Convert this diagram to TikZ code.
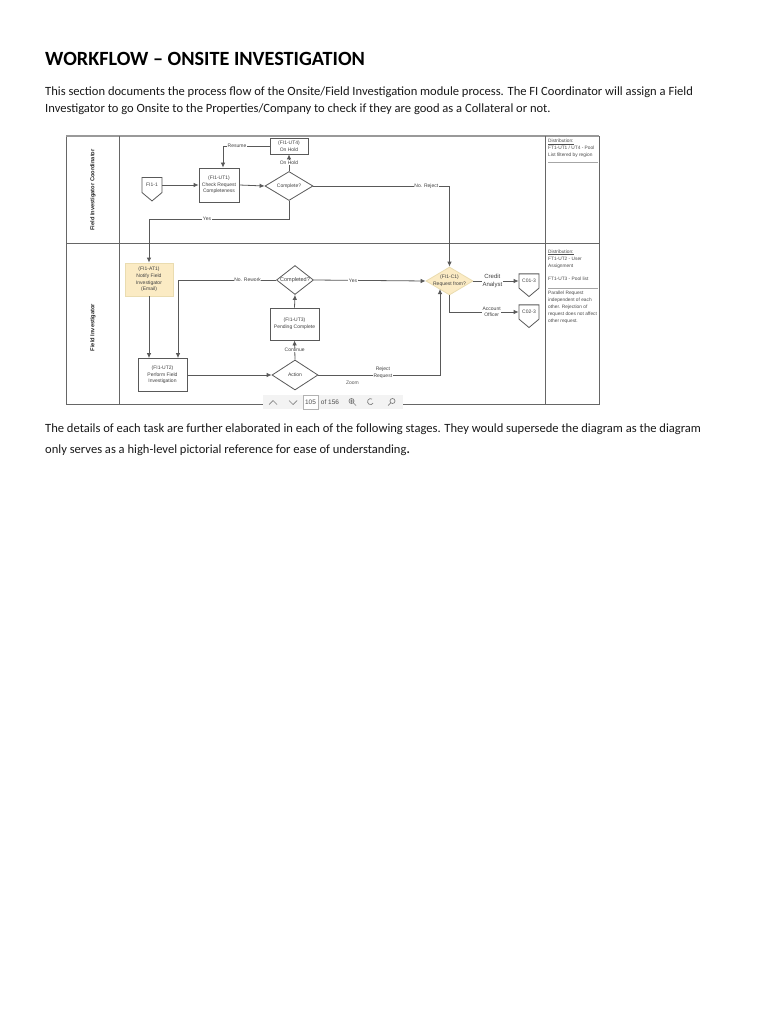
\documentclass[tikz,border=0pt]{standalone}
\usepackage{fontspec}
\setmainfont{Carlito}
\newfontfamily\chartfont{Liberation Sans}
\usetikzlibrary{arrows.meta,shapes.geometric,shapes.symbols}
\definecolor{paleyellow}{HTML}{FBEBC4}
\definecolor{paleedge}{HTML}{EADCB0}
\definecolor{barback}{HTML}{F3F3F3}
\tikzset{
  lane/.style={draw=black!60, line width=0.8pt},
  chartfontsize/.style={font=\chartfont\fontsize{5}{6.6}\selectfont, text=black!75},
  taskbox/.style={chartfontsize, draw=black!65, fill=white, line width=0.8pt, align=center, inner sep=0pt},
  decide/.style={diamond, draw=black!65, fill=white, line width=0.8pt, inner sep=0pt},
  decidelabel/.style={chartfontsize, align=center, inner sep=0pt},
  offpage/.style={chartfontsize, signal, signal to=south, signal pointer angle=100, draw=black!65, fill=white, line width=0.8pt, inner sep=0pt, minimum width=20pt, minimum height=20pt},
  flowlabel/.style={chartfontsize, fill=white, align=center, inner sep=0.5pt},
  flow/.style={draw=black!65, line width=0.8pt, -{Latex[length=5pt,width=4.5pt]}},
  sidenote/.style={align=left, anchor=north west, inner sep=0pt, font=\chartfont\fontsize{4.8}{7}\selectfont, text=black!70},
  lanetitle/.style={rotate=90, inner sep=0pt, font=\chartfont\bfseries\fontsize{5.7}{6}\selectfont, text=black!85},
  bodytext/.style={anchor=base west, inner sep=0pt, font=\fontsize{12.55}{15}\selectfont, text=black!90},
  barglyph/.style={draw=black!50, line width=0.7pt},
}
\begin{document}
\begin{tikzpicture}[x=1pt, y=-1pt]
  \useasboundingbox[fill=white] (0,0) rectangle (768,1024);

  % heading and paragraphs
  \node[anchor=base west, inner sep=0pt, font=\bfseries\fontsize{20.2}{24}\selectfont] (title) at (45,66) {WORKFLOW – ONSITE INVESTIGATION};
  \node[bodytext] (introa) at (45,96) {This section documents the process flow of the Onsite/Field Investigation module process. The FI Coordinator will assign a Field};
  \node[bodytext] (introb) at (45,113) {Investigator to go Onsite to the Properties/Company to check if they are good as a Collateral or not.};
  \node[bodytext] (closea) at (45,432) {The details of each task are further elaborated in each of the following stages. They would supersede the diagram as the diagram};
  \node[bodytext] (closeb) at (45,453) {only serves as a high-level pictorial reference for ease of understanding{\bfseries .}};

  % lanes
  \draw[lane] (66,136) rectangle (599,404);
  \draw[lane, black!40, line width=1.4pt] (66,136) -- (599,136);
  \draw[lane] (66,243.5) -- (599,243.5);
  \draw[lane] (119,136) -- (119,404);
  \draw[lane] (545.5,136) -- (545.5,404);
  \draw[lane, black!35] (548,162) -- (598,162);
  \draw[lane, black!35] (548,288) -- (598,288);
  \node[lanetitle] (lanea) at (93,190) {Field Investigator Coordinator};
  \node[lanetitle] (laneb) at (93,327.5) {Field Investigator};

  % coordinator lane
  \node[offpage] (start) at (152,185) {FI1-1};
  \node[taskbox, minimum width=40pt, minimum height=34pt] (check) at (219,185) {(FI1-UT1)\\Check Request\\Completeness};
  \node[taskbox, minimum width=38pt, minimum height=16pt] (hold) at (289,146) {(FI1-UT4)\\On Hold};
  \node[decide, minimum width=48pt, minimum height=29pt, label={[decidelabel]center:Complete?}] (complete) at (289,186) {};
  \coordinate (resumebend) at (223,146);
  \coordinate (yesbend) at (289,219);

  % investigator lane
  \node[taskbox, draw=paleedge, fill=paleyellow, minimum width=48pt, minimum height=33pt] (notify) at (149,279.5) {(FI1-AT1)\\Notify Field\\Investigator\\(Email)};
  \node[taskbox, minimum width=49pt, minimum height=33pt] (perform) at (162.5,375) {(FI1-UT2)\\Perform Field\\Investigation};
  \node[decide, minimum width=37pt, minimum height=29pt, label={[decidelabel, font=\chartfont\fontsize{5.5}{6.6}\selectfont]center:Completed?}] (completed) at (295,280) {};
  \node[taskbox, minimum width=49pt, minimum height=32pt] (pending) at (294.5,324) {(FI1-UT3)\\Pending Complete};
  \node[decide, minimum width=46pt, minimum height=30pt, label={[decidelabel]center:Action}] (action) at (295,375) {};
  \node[decide, draw=paleedge, fill=paleyellow, minimum width=47pt, minimum height=28pt, label={[decidelabel]center:(FI1-C1)\\Request from?}] (request) at (449.5,281) {};
  \node[offpage] (creditout) at (529,281) {C01-3};
  \node[offpage] (officerout) at (529,312) {C02-3};
  \coordinate (reworkbend) at (178,280);
  \coordinate (rejectbend) at (440,375);
  \coordinate (rejectend) at (440,289);
  \coordinate (officerbend) at (449.5,312);

  % connectors
  \draw[flow] (start.east |- check.west) -- (check.west);
  \draw[flow] (check.east) -- (complete.west);
  \draw[flow] (complete.north) -- node[flowlabel] {On Hold} (hold.south);
  \draw[flow] (hold.west) -- node[flowlabel, pos=0.7] {Resume} (resumebend) -- (resumebend |- check.north);
  \draw[flow] (complete.south) -- (yesbend) -- node[flowlabel, pos=0.586] {Yes} (yesbend -| notify.north) -- (notify.north);
  \draw[flow] (complete.east) -- node[flowlabel, pos=0.83] {No. Reject} (complete.east -| request.north) -- (request.north);
  \draw[flow] (notify.south) -- (notify.south |- perform.north);
  \draw[flow] (completed.west) -- node[flowlabel, pos=0.29] {No. Rework} (reworkbend) -- (reworkbend |- perform.north);
  \draw[flow] (perform.east) -- (action.west);
  \draw[flow] (action.north) -- node[flowlabel] {Continue} (pending.south);
  \draw[flow] (pending.north) -- (completed.south);
  \draw[flow] (completed.east) -- node[flowlabel, pos=0.35] {Yes} (request.west);
  \draw[flow] (action.east) -- node[flowlabel, pos=0.53, yshift=2.5pt] {Reject\\Request} (rejectbend) -- (rejectend);
  \draw[flow] (request.east) -- node[flowlabel, pos=0.42, font=\chartfont\fontsize{6}{7.5}\selectfont] {Credit\\Analyst} (creditout.west |- request.east);
  \draw[flow] (request.south) -- (officerbend) -- node[flowlabel, pos=0.61] {Account\\Officer} (officerout.west |- officerbend);

  % side notes
  \node[sidenote] (notea) at (548,139) {\underline{Distribution:}\\FT1-UT1 / UT4 - Pool\\List filtered by region};
  \node[sidenote] (noteb) at (548,249.5) {\underline{Distribution:}\\FT1-UT2 - User\\Assignment\\[6pt]FT1-UT3 - Pool list};
  \node[sidenote] (notec) at (548,290.5) {Parallel Request\\independent of each\\other. Rejection of\\request does not affect\\other request.};

  % viewer toolbar
  \fill[barback] (263,395) rectangle (403,409);
  \fill[white] (340,377) rectangle (365,391) (348,391) -- (357,391) -- (352.5,395) -- cycle;
  \node[font=\chartfont\fontsize{5}{6}\selectfont, text=black!65, inner sep=0pt] (zoomtip) at (352.5,383) {Zoom};
  \draw[barglyph] (269,404.5) -- (273,400.5) -- (277,404.5);
  \draw[barglyph] (289,400.5) -- (293,404.5) -- (297,400.5);
  \node[draw=black!30, fill=white, line width=0.6pt, minimum width=15pt, minimum height=14pt, inner sep=0pt, font=\chartfont\fontsize{6.5}{7}\selectfont, text=black!70] (pagebox) at (310.5,402) {105};
  \node[font=\chartfont\fontsize{6.5}{7}\selectfont, text=black!70, inner sep=0pt] (pagecount) at (330,402) {of 156};
  \draw[barglyph] (351.5,401) circle (2.5pt) (353.5,403) -- (356,405.5) (350,401) -- (353,401) (351.5,399.5) -- (351.5,402.5);
  \draw[barglyph] (372,399) arc[start angle=60, end angle=330, radius=3pt];
  \draw[barglyph] (392.5,401) circle (2.5pt) (390.5,403) -- (388,405.5);
\end{tikzpicture}
\end{document}
